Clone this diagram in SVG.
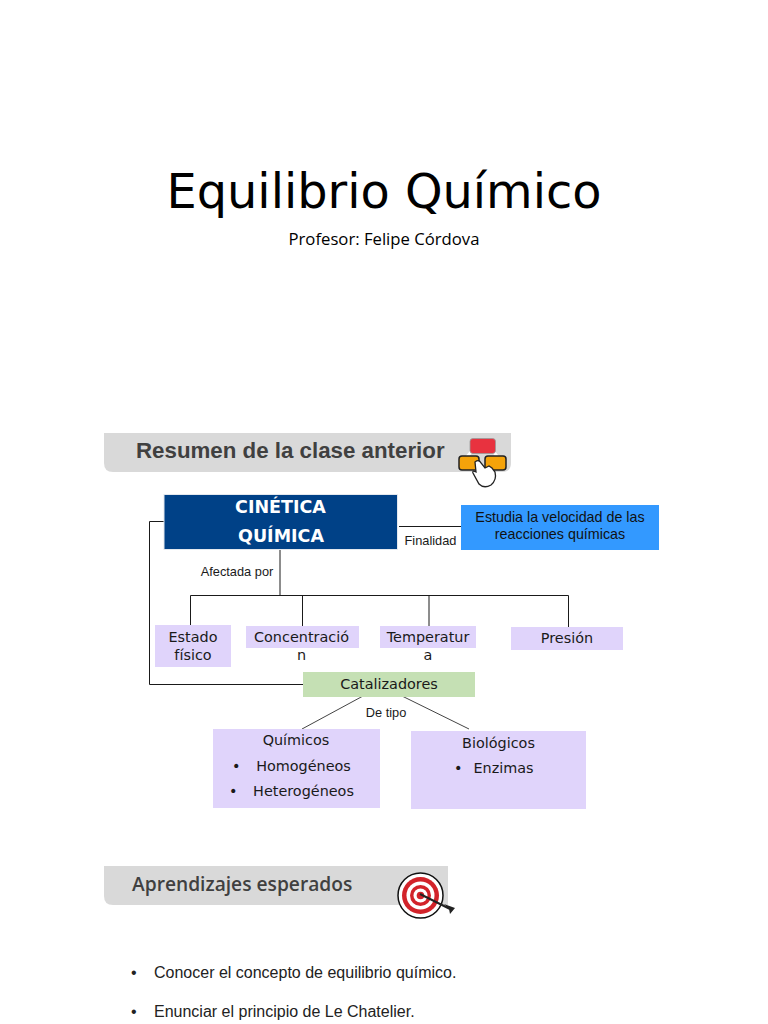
<svg xmlns="http://www.w3.org/2000/svg" width="768" height="1024" viewBox="0 0 768 1024">
<style>
.dj{font-family:"DejaVu Sans",sans-serif}
.lb{font-family:"Liberation Sans",Arial,sans-serif}
.os{font-family:"Open Sans","Noto Sans",sans-serif}
.c{text-anchor:middle}
.t{font-size:14.4px;fill:#1a1a1a}
.s{font-size:12.8px;fill:#1a1a1a}
.p{fill:#e0d4fb}
.ln{fill:none;stroke:#1a1a1a;stroke-width:1}
.bar{fill:#d9d9d9}
</style>
<rect width="768" height="1024" fill="#fff"/>
<text id="title" class="dj c" x="384" y="208" font-size="47.8" fill="#000">Equilibrio Químico</text>
<text id="subtitle" class="os c" x="384" y="245" font-size="16.7" fill="#000">Profesor: Felipe Córdova</text>

<g id="header1">
<path class="bar" d="M104 433H511V463Q511 472 502 472H113Q104 472 104 463Z"/>
<text class="lb" x="136" y="458" font-size="22.3" font-weight="700" fill="#404040">Resumen de la clase anterior</text>
<g id="icon1">
<path d="M472 451L465 459M493 451L499 459" stroke="#fff" stroke-width="3"/>
<rect x="470" y="438.500" width="25.500" height="15" rx="3" fill="#e8323f" stroke="#999" stroke-width="0.800"/>
<rect x="459" y="456" width="20" height="14" rx="3" fill="#f5a30a" stroke="#222" stroke-width="1.500"/>
<rect x="485" y="456" width="21" height="14" rx="3" fill="#f5a30a" stroke="#222" stroke-width="1.500"/>
<path d="M475 462Q479 459 481 463L485 468L489 466L492 468L495 472Q497 480 491 485Q484 489 479 484L473 473Q472 470 476 472Z" fill="#fff" stroke="#222" stroke-width="1.300"/>
</g>
</g>

<g id="connectors">
<path class="ln" d="M164 521.500H149.500V684.500H304"/>
<path class="ln" d="M399 526.500H462"/>
<path class="ln" d="M280 550V595.500"/>
<path class="ln" d="M190.500 626V595.500H568.500V627"/>
<path class="ln" d="M302.500 595.500V626"/>
<path class="ln" d="M429 595.500V626"/>
<path d="M363 696L302 729M402 696L469 729" fill="none" stroke="#444" stroke-width="1"/>
</g>

<g id="cinetica">
<rect x="164" y="494.500" width="233.500" height="55" fill="#004187" stroke="#e4e8ee" stroke-width="1"/>
<text class="dj c" x="280.500" y="512.500" font-size="17.500" font-weight="700" fill="#fff">CINÉTICA</text>
<text class="dj c" x="281" y="542" font-size="17.500" font-weight="700" fill="#fff">QUÍMICA</text>
</g>
<g id="finalidad"><text class="lb c s" x="430.500" y="545">Finalidad</text></g>
<g id="estudia">
<rect x="461" y="505" width="198" height="45" fill="#3399ff"/>
<text class="lb c" x="560" y="522" font-size="14.300" fill="#111">Estudia la velocidad de las</text>
<text class="lb c" x="560" y="539" font-size="14.300" fill="#111">reacciones químicas</text>
</g>
<g id="afectada"><text class="lb c s" x="237" y="576">Afectada por</text></g>

<g id="estado">
<rect class="p" x="155" y="625" width="76" height="42"/>
<text class="dj c t" x="193" y="642">Estado</text>
<text class="dj c t" x="193" y="660">físico</text>
</g>
<g id="concentracion">
<rect class="p" x="246" y="626" width="113" height="22"/>
<text class="dj c t" x="301.500" y="642">Concentració</text>
<text class="dj c t" x="301.500" y="660">n</text>
</g>
<g id="temperatura">
<rect class="p" x="380" y="626" width="96" height="22"/>
<text class="dj c t" x="428" y="642">Temperatur</text>
<text class="dj c t" x="428" y="660">a</text>
</g>
<g id="presion">
<rect class="p" x="511" y="627" width="112" height="23"/>
<text class="dj c t" x="567" y="643">Presión</text>
</g>
<g id="catalizadores">
<rect x="303" y="672" width="172" height="25" fill="#c5e0b4"/>
<text class="dj c t" x="389" y="689">Catalizadores</text>
</g>
<g id="detipo"><text class="lb c s" x="386" y="717">De tipo</text></g>
<g id="quimicos">
<rect class="p" x="213" y="729" width="167" height="79"/>
<text class="dj c t" x="296" y="745">Químicos</text>
<text class="dj t" x="232" y="771">•</text>
<text class="dj c t" x="303.500" y="771">Homogéneos</text>
<text class="dj t" x="229" y="796">•</text>
<text class="dj c t" x="303.500" y="796">Heterogéneos</text>
</g>
<g id="biologicos">
<rect class="p" x="411" y="731" width="175" height="78"/>
<text class="dj c t" x="498.500" y="748">Biológicos</text>
<text class="dj t" x="454" y="773">•</text>
<text class="dj c t" x="503.500" y="773">Enzimas</text>
</g>

<g id="header2">
<path class="bar" d="M104 866H448V905H113Q104 905 104 896Z"/>
<text class="os" x="132" y="891" font-size="19.200" font-weight="600" fill="#404040">Aprendizajes esperados</text>
<g id="icon2">
<circle cx="420.500" cy="895.500" r="22.500" fill="#fff" stroke="#111" stroke-width="1.500"/>
<circle cx="420.500" cy="895.500" r="18.500" fill="#d2232a"/>
<circle cx="420.500" cy="895.500" r="14" fill="#fff"/>
<circle cx="420.500" cy="895.500" r="10.500" fill="#d2232a"/>
<circle cx="420.500" cy="895.500" r="7" fill="#fff"/>
<circle cx="420.500" cy="895.500" r="3.800" fill="#d2232a"/>
<path d="M420 894L450 909" stroke="#222" stroke-width="2"/>
<path d="M444 904L455 908L450 914L449 909Z" fill="#222"/>
</g>
</g>

<g id="bullets">
<text class="lb" x="131" y="978" font-size="16" fill="#222">•</text>
<text class="lb" x="154" y="978" font-size="16" fill="#222">Conocer el concepto de equilibrio químico.</text>
<text class="lb" x="131" y="1017" font-size="16" fill="#222">•</text>
<text class="lb" x="154" y="1017" font-size="16" fill="#222">Enunciar el principio de Le Chatelier.</text>
</g>
</svg>
